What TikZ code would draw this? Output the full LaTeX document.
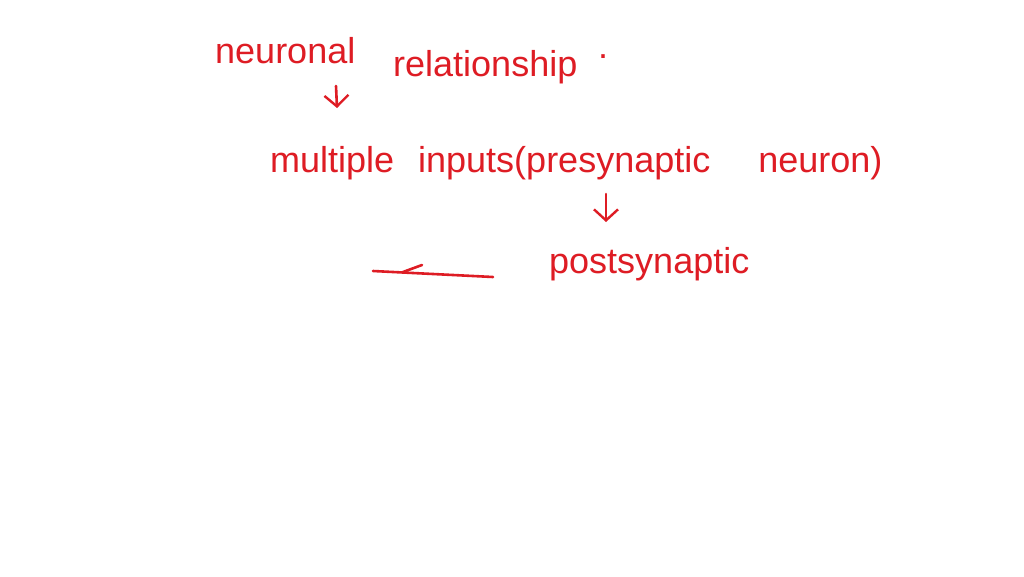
\documentclass[tikz,border=0pt]{standalone}
\usepackage{fontspec}
\setmainfont{Liberation Sans}
\usetikzlibrary{arrows.meta}
\definecolor{ink}{RGB}{222,28,36}
\begin{document}
\begin{tikzpicture}[x=1pt,y=-1pt,
  hand/.style={text=ink,font=\fontsize{36}{40}\selectfont,inner sep=0pt,anchor=base west},
  pen/.style={draw=ink,line width=2.6pt,line cap=round,line join=round},
  downarrow/.style={pen,-{Straight Barb[length=11pt,width=24pt,line width=2.4pt]}}]
\useasboundingbox[fill=white] (0,0) rectangle (1024,576);
\node[hand] (neuronal) at (215,63) {neuronal};
\node[hand] (relationship) at (393,76) {relationship};
\node[text=ink,font=\fontsize{36}{40}\selectfont,inner sep=0pt] (dot) at (603,57) {.};
\node[hand] (inputs) at (270,172) {multiple\hspace{24pt}inputs(presynaptic\hspace{48pt}neuron)};
\node[hand] (post) at (549,273) {postsynaptic};
\coordinate (a1s) at (336,86);
\coordinate (a1e) at (337,108);
\draw[downarrow] (a1s) -- (a1e);
\coordinate (a2s) at (606,194);
\coordinate (a2e) at (606,222);
\draw[downarrow] (a2s) -- (a2e);
\coordinate (la) at (493,277);
\coordinate (lb) at (373,271);
\coordinate (bara) at (403,272);
\coordinate (barb) at (422,265);
\draw[pen] (la) -- (lb);
\draw[pen] (bara) -- (barb);
\end{tikzpicture}
\end{document}
